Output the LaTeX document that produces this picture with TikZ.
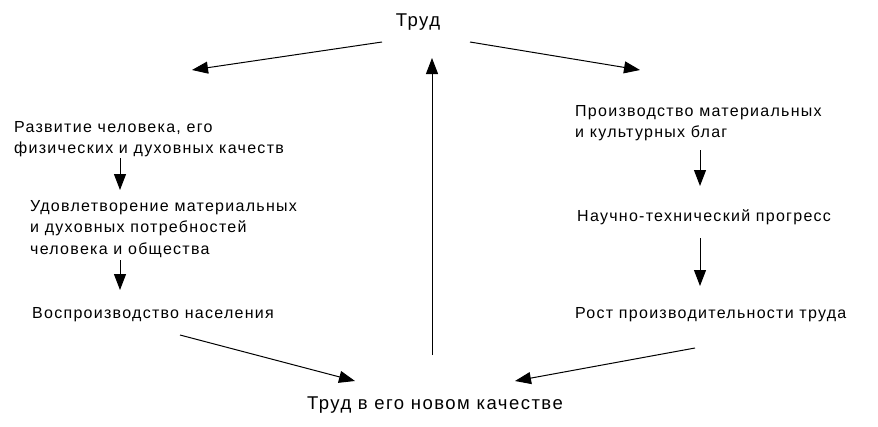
\documentclass[tikz,border=0pt]{standalone}
\usepackage{fontspec}
\setmainfont{Liberation Sans}
\newfontfamily\spaced[LetterSpace=8]{Liberation Sans}
\usetikzlibrary{arrows.meta}
\begin{document}
\begin{tikzpicture}[x=1pt,y=-1pt,
  txt/.style={inner sep=0pt,font=\spaced\fontsize{16}{21.5}\selectfont,align=left},
  arr/.style={-{Triangle[length=16pt,width=12pt]},line width=1pt}]
\useasboundingbox (0,0) rectangle (878,426);
\node[txt,font=\spaced\fontsize{18.5}{20}\selectfont] (trud) at (418,22) {Труд};
\node[txt,anchor=west] (razv) at (14,139) {Развитие человека, его\\физических и духовных качеств};
\node[txt,anchor=west] (udov) at (30,229) {Удовлетворение материальных\\и духовных потребностей\\человека и общества};
\node[txt,anchor=west] (vosp) at (32,315) {Воспроизводство населения};
\node[txt,anchor=west] (proiz) at (575,123) {Производство материальных\\и культурных благ};
\node[txt,anchor=west] (ntp) at (577,217) {Научно-технический прогресс};
\node[txt,anchor=west] (rost) at (575,315) {Рост производительности труда};
\node[txt,font=\spaced\fontsize{18.5}{20}\selectfont] (nov) at (435,405) {Труд в его новом качестве};
\coordinate (a1s) at (382,42); \coordinate (a1e) at (192,70);
\coordinate (a2s) at (470,42); \coordinate (a2e) at (640,70);
\coordinate (ups) at (432,355); \coordinate (upe) at (432,58);
\coordinate (l1s) at (120,158); \coordinate (l1e) at (120,190);
\coordinate (l2s) at (120,260); \coordinate (l2e) at (120,290);
\coordinate (r1s) at (700,150); \coordinate (r1e) at (700,186);
\coordinate (r2s) at (700,238); \coordinate (r2e) at (700,286);
\coordinate (b1s) at (180,335); \coordinate (b1e) at (355,381);
\coordinate (b2s) at (695,348); \coordinate (b2e) at (515,381);
\foreach \p in {a1,a2,up,l1,l2,r1,r2,b1,b2} \draw[arr] (\p s) -- (\p e);
\end{tikzpicture}
\end{document}
